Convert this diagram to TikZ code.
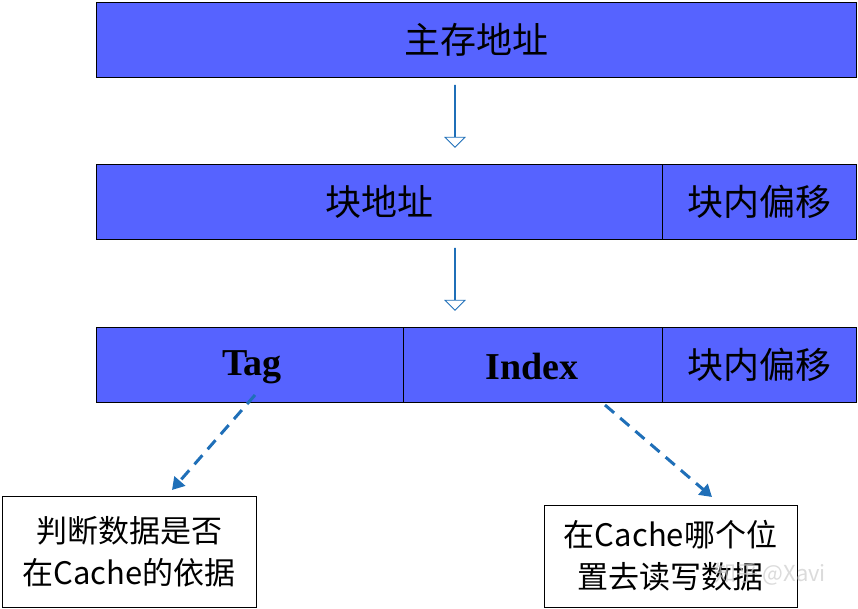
\documentclass[tikz,border=0pt]{standalone}
\usepackage{fontspec}
\newfontfamily\cjk{Noto Sans CJK SC}
\setmainfont{Liberation Serif}
\usetikzlibrary{arrows.meta,shapes.arrows}
\definecolor{barblue}{HTML}{5663FF}
\definecolor{arrblue}{HTML}{1F6FB8}
\begin{document}
\begin{tikzpicture}[x=1pt,y=-1pt,
  bar/.style={draw=black,fill=barblue,line width=0.8pt},
  lbl/.style={font=\cjk\fontsize{36}{40}\selectfont},
  lat/.style={font=\bfseries\fontsize{38}{42}\selectfont},
  note/.style={draw=black,line width=0.8pt,fill=white,align=center,font=\cjk\fontsize{31}{42}\selectfont,inner sep=0pt},
  hollow/.style={draw=arrblue,fill=white,line width=0.8pt,single arrow,shape border rotate=270,minimum height=62pt,minimum width=20pt,single arrow head extend=8pt,single arrow tip angle=90,inner sep=0pt},
  dasharrow/.style={draw=arrblue,line width=3pt,dash pattern=on 12pt off 8pt,-{Triangle[length=12pt,width=14pt]}}]
\useasboundingbox (0,0) rectangle (858,609);
% row 1
\node[bar,minimum width=760pt,minimum height=75pt,anchor=north west,inner sep=0pt] (r1) at (96,2) {};
\node[lbl] (t1) at (r1.center) {主存地址};
% row 2
\node[bar,minimum width=566pt,minimum height=75pt,anchor=north west,inner sep=0pt] (r2a) at (96,164) {};
\node[bar,minimum width=194pt,minimum height=75pt,anchor=north west,inner sep=0pt] (r2b) at (662,164) {};
\node[lbl] at (r2a.center) {块地址};
\node[lbl] at (r2b.center) {块内偏移};
% row 3
\node[bar,minimum width=307pt,minimum height=75pt,anchor=north west,inner sep=0pt] (r3a) at (96,327) {};
\node[bar,minimum width=259pt,minimum height=75pt,anchor=north west,inner sep=0pt] (r3b) at (403,327) {};
\node[bar,minimum width=194pt,minimum height=75pt,anchor=north west,inner sep=0pt] (r3c) at (662,327) {};
\node[lat] at (252,367) {Tag};
\node[lat] at (532,367) {Index};
\node[lbl] at (r3c.center) {块内偏移};
% hollow arrows
\node[hollow] (h1) at (455,116) {};
\node[hollow] (h2) at (455,279) {};
% notes
\node[note,minimum width=254pt,minimum height=111pt] (n1) at (129,551.5) {判断数据是否\\在Cache的依据};
\node[note,minimum width=253pt,minimum height=102pt] (n2) at (670.5,556) {在Cache哪个位\\置去读写数据};
\coordinate (s1) at (255,395);
\coordinate (s2) at (605,405);
\draw[dasharrow] (s1) -- (172,490);
\draw[dasharrow] (s2) -- (712,497);
\node[font=\cjk\fontsize{22}{24}\selectfont,text=gray!40,opacity=0.7] at (770,574) {知乎 @Xavi};
\end{tikzpicture}
\end{document}
